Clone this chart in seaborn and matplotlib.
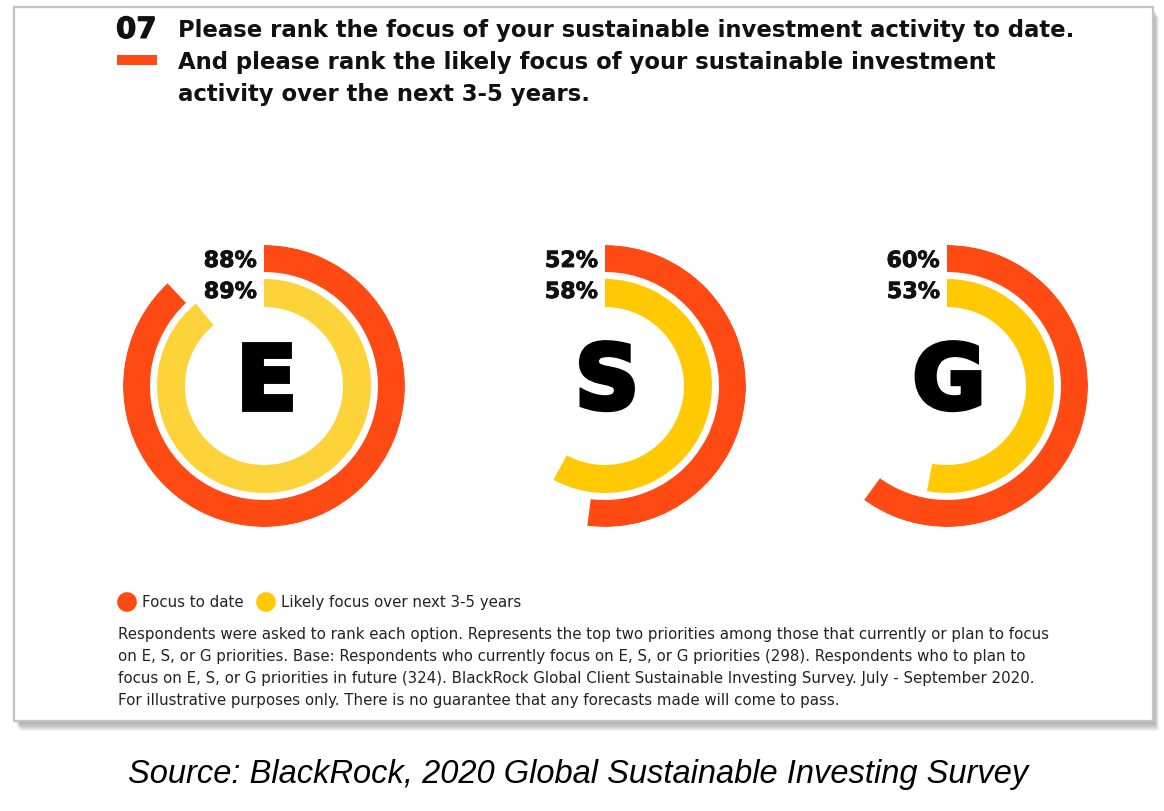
import numpy as np
import matplotlib
matplotlib.use("Agg")
import matplotlib.pyplot as plt
import matplotlib.patheffects as pe
import seaborn as sns
import pandas as pd
from matplotlib.patches import Rectangle

# ---------------- data ----------------
categories = ["E", "S", "G"]
focus_to_date = [88, 52, 60]
likely_focus = [89, 58, 53]
legend_labels = ["Focus to date", "Likely focus over next 3-5 years"]

title_num = "07"
title_lines = ["Please rank the focus of your sustainable investment activity to date.",
               "And please rank the likely focus of your sustainable investment",
               "activity over the next 3-5 years."]
footnote_lines = [
    "Respondents were asked to rank each option. Represents the top two priorities among those that currently or plan to focus",
    "on E, S, or G priorities. Base: Respondents who currently focus on E, S, or G priorities (298). Respondents who to plan to",
    "focus on E, S, or G priorities in future (324). BlackRock Global Client Sustainable Investing Survey. July - September 2020.",
    "For illustrative purposes only. There is no guarantee that any forecasts made will come to pass.",
]
source_text = "Source: BlackRock, 2020 Global Sustainable Investing Survey"

# ---------------- style ----------------
sns.set_theme(style="white")
plt.rcParams["font.family"] = ["DejaVu Sans"]

RED = "#FF4A14"
YELLOWS = ["#FCD43A", "#FFC904", "#FFC904"]
LEG_YELLOW = "#FFC904"

W, H = 1164, 812
fig = plt.figure(figsize=(W / 100, H / 100), dpi=100)
fig.patch.set_facecolor("white")

ax = fig.add_axes([0, 0, 1, 1])
ax.set_xlim(0, W)
ax.set_ylim(H, 0)
ax.set_axis_off()

# card shadow + card (soft layered shadow)
for i in range(8):
    off = 10 - i * 1.1
    ax.add_patch(Rectangle((14 + off * 0.6, 8 + off), 1139, 714, facecolor="black",
                           alpha=0.045, edgecolor="none", zorder=0))
ax.add_patch(Rectangle((14, 8), 1139, 714, facecolor="white",
                       edgecolor="#C4C4C4", linewidth=1.6, zorder=1))

# title
ax.text(116, 31, title_num, fontsize=21, fontweight="bold", color="#111111",
        va="center", ha="left", zorder=3,
        path_effects=[pe.withStroke(linewidth=0.8, foreground="#111111", joinstyle="miter")])
ax.add_patch(Rectangle((117, 56), 40, 10, facecolor=RED, edgecolor="none", zorder=3))
for i, line in enumerate(title_lines):
    ax.text(178, 30 + i * 32, line, fontsize=16.4, fontweight="bold", color="#111111",
            va="center", ha="left", zorder=3)

# legend dots via seaborn
leg_df = pd.DataFrame({"x": [127, 266], "y": [603, 603], "lab": legend_labels})
sns.scatterplot(data=leg_df, x="x", y="y", hue="lab",
                palette=[RED, LEG_YELLOW], s=200, edgecolor="none",
                legend=False, ax=ax, zorder=3)
ax.text(142, 603, legend_labels[0], fontsize=10.8, va="center", ha="left", color="#222222")
ax.text(281, 603, legend_labels[1], fontsize=10.8, va="center", ha="left", color="#222222")

for i, line in enumerate(footnote_lines):
    ax.text(118, 635 + i * 21.7, line, fontsize=10.8, va="center", ha="left", color="#222222")

ax.text(578, 775, source_text, fontsize=23.5, style="italic", va="center", ha="center",
        color="black", family=["Liberation Sans Narrow", "Liberation Sans", "DejaVu Sans"])

# radial bars
centers_x = [264, 605, 947]
cy = 387
R = 141
red_in, red_w = 114, 27
yel_in, yel_w = 79, 28
for k, cat in enumerate(categories):
    cx = centers_x[k]
    pax = fig.add_axes([(cx - R) / W, (H - cy - R) / H, 2 * R / W, 2 * R / H],
                       projection="polar")
    pax.set_theta_zero_location("N")
    pax.set_theta_direction(-1)
    pax.set_ylim(0, R)
    pax.set_axis_off()
    pax.bar(0, red_w, width=focus_to_date[k] / 100 * 2 * np.pi, bottom=red_in,
            align="edge", color=RED, edgecolor="none")
    pax.bar(0, yel_w, width=likely_focus[k] / 100 * 2 * np.pi, bottom=yel_in,
            align="edge", color=YELLOWS[k], edgecolor="none")
    # labels
    ax.text(cx - 7, 262, f"{focus_to_date[k]}%", fontsize=16, fontweight="bold",
            ha="right", va="center", color="#111111", zorder=5,
            path_effects=[pe.withStroke(linewidth=0.6, foreground="#111111", joinstyle="miter")])
    ax.text(cx - 7, 293, f"{likely_focus[k]}%", fontsize=16, fontweight="bold",
            ha="right", va="center", color="#111111", zorder=5,
            path_effects=[pe.withStroke(linewidth=0.6, foreground="#111111", joinstyle="miter")])
    ax.text(cx + 2, 385, cat, fontsize=64, fontweight="bold", ha="center", va="center",
            color="black", zorder=5,
            path_effects=[pe.withStroke(linewidth=3.5, foreground="black", joinstyle="miter")])

fig.savefig("out.png", dpi=100, facecolor="white")
